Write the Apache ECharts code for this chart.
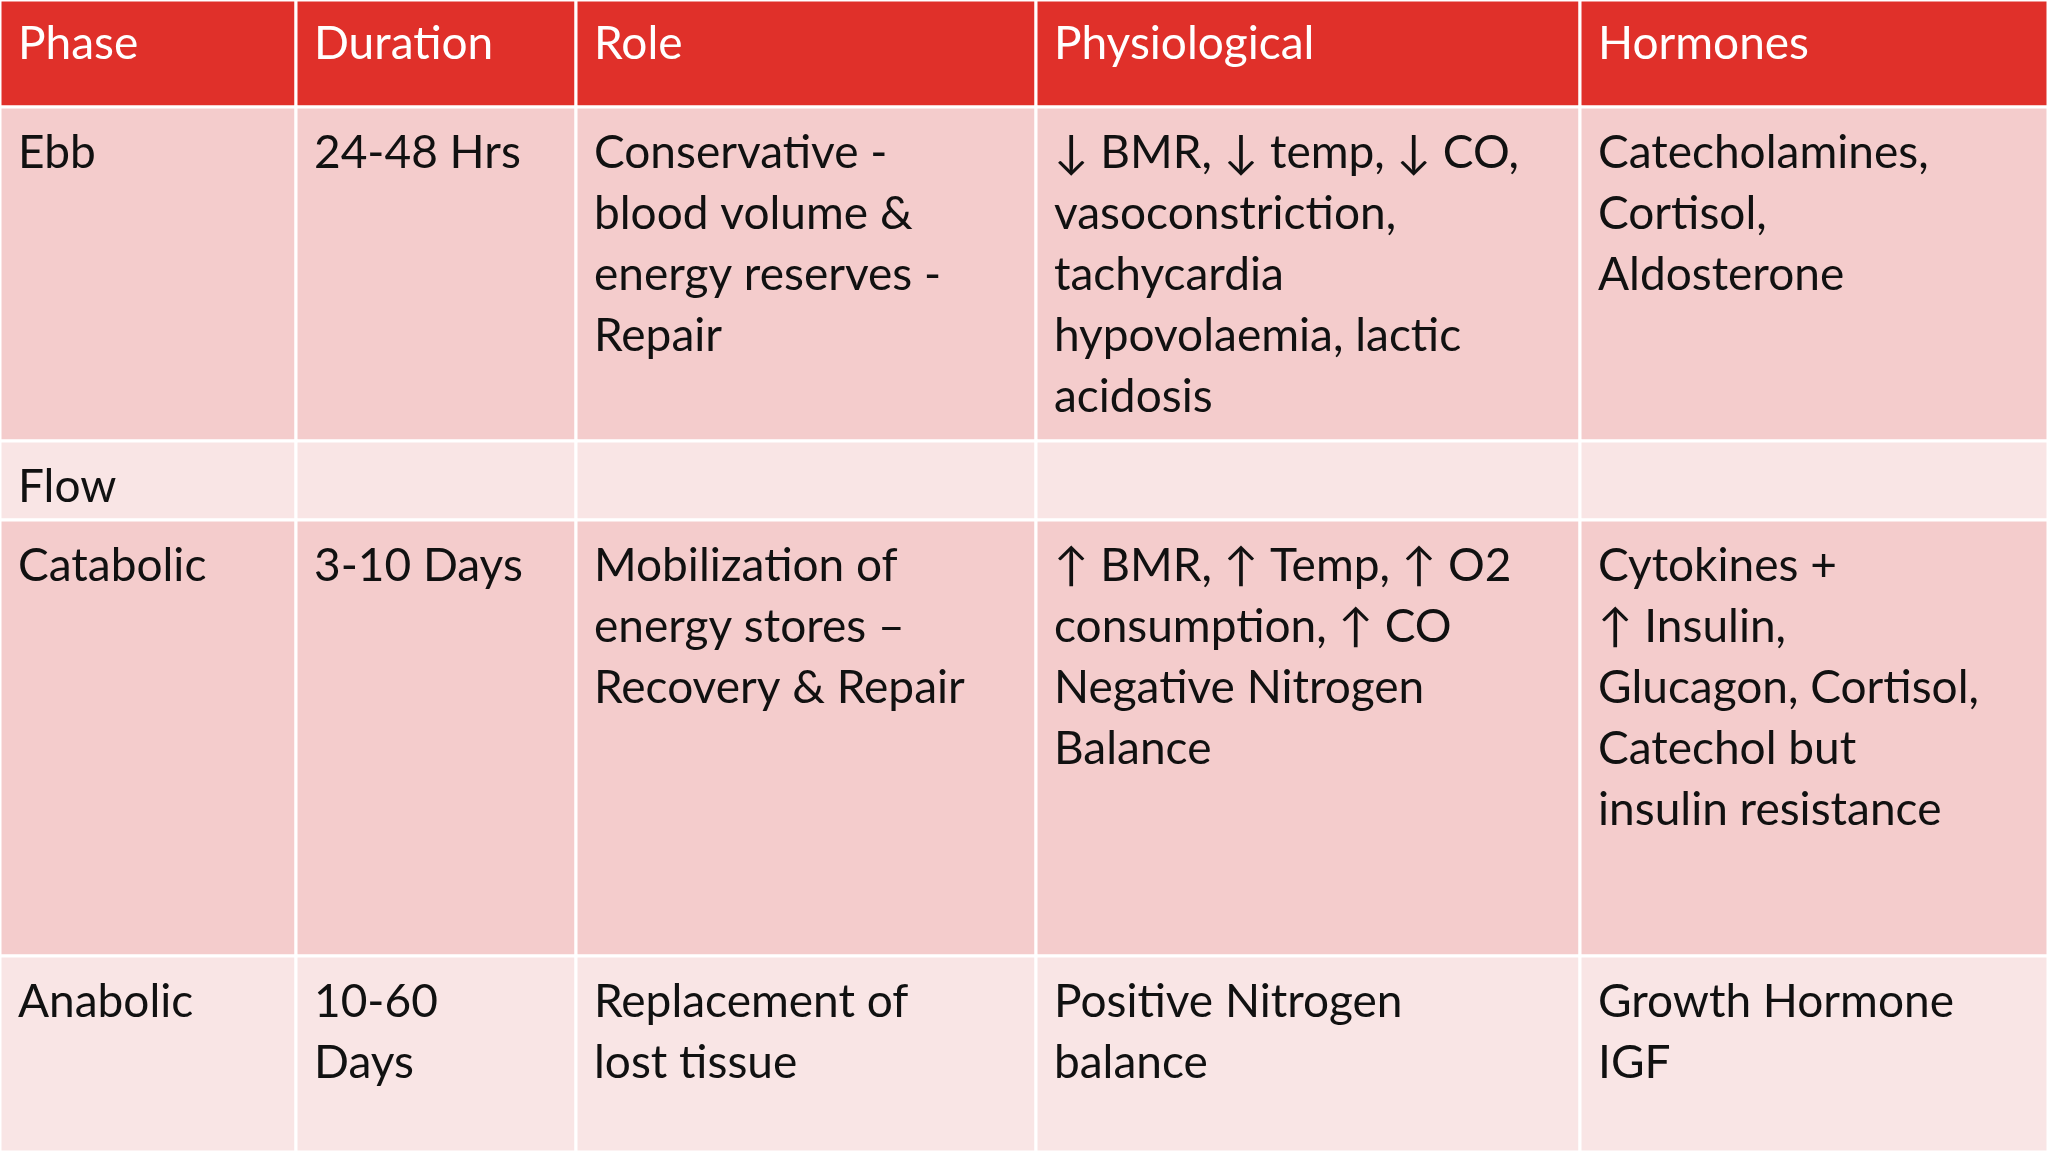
<!DOCTYPE html>
<html>
<head>
<meta charset="utf-8">
<script src="https://cdn.jsdelivr.net/npm/echarts@6/dist/echarts.min.js"></script>
<style>html,body{margin:0;padding:0;background:#fff}#main{width:2048px;height:1152px}</style>
</head>
<body>
<div id="main"></div>
<script>
// table contents
const headers = ["Phase", "Duration", "Role", "Physiological", "Hormones"];
const phases = ["Ebb", "Flow", "Catabolic", "Anabolic"];
const durations = ["24-48 Hrs", "", "3-10 Days", "10-60\nDays"];
const roles = [
  "Conservative -\nblood volume &\nenergy reserves -\nRepair",
  "",
  "Mobilization of\nenergy stores –\nRecovery & Repair",
  "Replacement of\nlost tissue"
];
const physiological = [
  "↓ BMR, ↓ temp, ↓ CO,\nvasoconstriction,\ntachycardia\nhypovolaemia, lactic\nacidosis",
  "",
  "↑ BMR, ↑ Temp, ↑ O2\nconsumption, ↑ CO\nNegative Nitrogen\nBalance",
  "Positive Nitrogen\nbalance"
];
const hormones = [
  "Catecholamines,\nCortisol,\nAldosterone",
  "",
  "Cytokines +\n↑ Insulin,\nGlucagon, Cortisol,\nCatechol but\ninsulin resistance",
  "Growth Hormone\nIGF"
];

// layout
const colEdges = [0, 296, 576, 1036, 1580, 2048];
const rowEdges = [0, 107, 441, 520, 956, 1152];
const rowFill = ["#e0302a", "#f4cccc", "#f9e5e5", "#f4cccc", "#f9e5e5"];
const font = "Lato, 'Open Sans', sans-serif";

const columns = [phases, durations, roles, physiological, hormones];
const elements = [];
for (let r = 0; r < rowEdges.length - 1; r++) {
  for (let c = 0; c < colEdges.length - 1; c++) {
    const x = colEdges[c], y = rowEdges[r];
    const w = colEdges[c + 1] - x, h = rowEdges[r + 1] - y;
    elements.push({
      type: "rect",
      shape: { x: x, y: y, width: w, height: h },
      style: { fill: rowFill[r], stroke: "#ffffff", lineWidth: 3 }
    });
    const txt = r === 0 ? headers[c] : columns[c][r - 1];
    if (!txt) continue;
    elements.push({
      type: "text",
      x: x + 18,
      y: y + (r === 0 ? 14 : 16),
      style: {
        text: txt,
        fill: r === 0 ? "#ffffff" : "#111111",
        font: "46px " + font,
        lineHeight: 61
      }
    });
  }
}

const chart = echarts.init(document.getElementById("main"));
chart.setOption({ animation: false, graphic: { elements: elements } });
</script>
</body>
</html>
